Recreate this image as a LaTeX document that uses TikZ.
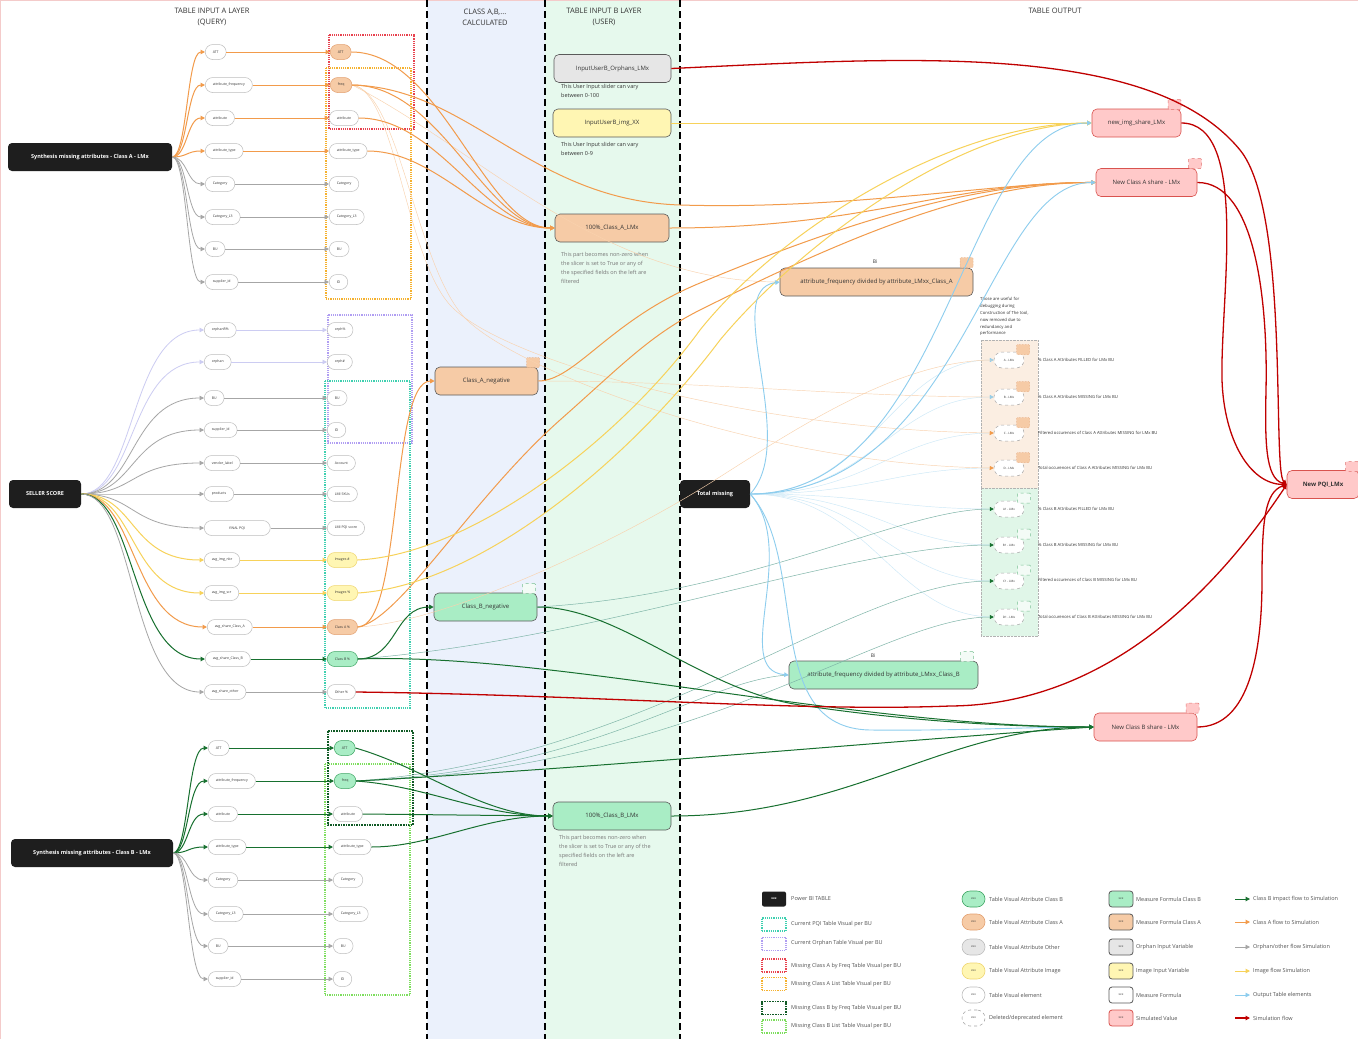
\documentclass[tikz,border=0pt]{standalone}
\usepackage{fontspec}
\setmainfont{Open Sans}
\usetikzlibrary{arrows.meta}
\definecolor{blkc}{HTML}{1E1E1E}
\definecolor{orA}{HTML}{F29B4B}
\definecolor{orF}{HTML}{F6CBA6}
\definecolor{orB}{HTML}{E3A070}
\definecolor{grn}{HTML}{17702F}
\definecolor{grnF}{HTML}{A9EDC5}
\definecolor{grnB}{HTML}{3EA563}
\definecolor{ylw}{HTML}{F7D25A}
\definecolor{ylwF}{HTML}{FFF6B3}
\definecolor{ylwB}{HTML}{EFD670}
\definecolor{gry}{HTML}{A6A6A6}
\definecolor{lav}{HTML}{CCCCF2}
\definecolor{redl}{HTML}{C00000}
\definecolor{pinkF}{HTML}{FFC9C9}
\definecolor{pinkB}{HTML}{D9534F}
\definecolor{blu}{HTML}{8DCDEE}
\definecolor{bgBlue}{HTML}{EBF1FC}
\definecolor{bgGreen}{HTML}{E6F9ED}
\definecolor{txt}{HTML}{333333}
\definecolor{gtxt}{HTML}{777777}
\definecolor{pillbd}{HTML}{BDBDBD}
\definecolor{grayF}{HTML}{E6E6E6}
\definecolor{bdg}{HTML}{5A5A5A}
\definecolor{peach}{HTML}{FBEEE2}
\definecolor{mint}{HTML}{E0F6E8}
\definecolor{tealc}{HTML}{3FD0B0}
\definecolor{lavD}{HTML}{B09EF2}
\definecolor{redD}{HTML}{E8424F}
\definecolor{orD}{HTML}{F5B12E}
\definecolor{dgD}{HTML}{105A25}
\definecolor{lgD}{HTML}{7EDE5E}
\definecolor{tealf}{HTML}{7FB5A8}
\newcommand{\fsz}[1]{\fontsize{#1}{#1}\selectfont}
\begin{document}
\begin{tikzpicture}[x=1pt,y=-1pt,
  pill/.style={draw=pillbd, line width=0.5pt, fill=white, rounded corners=7.5pt, minimum height=15pt, inner xsep=7.5pt, inner ysep=0pt, font=\fsz{3.5}, text=txt, anchor=west},
  pO/.style={fill=orF, draw=orB},
  pG/.style={fill=grnF, draw=grnB},
  pY/.style={fill=ylwF, draw=ylwB},
  blk/.style={fill=blkc, rounded corners=4pt, text=white, font=\bfseries\fsz{5.5}, minimum height=28pt, inner sep=0pt},
  mnode/.style={draw=bdg, line width=0.6pt, rounded corners=5pt, minimum height=28pt, inner sep=0pt, font=\fsz{6}, text=txt},
  onode/.style={draw=pinkB, line width=0.6pt, fill=pinkF, rounded corners=5pt, minimum height=28pt, inner sep=0pt, font=\fsz{6}, text=txt},
  noteO/.style={minimum width=13pt, minimum height=10pt, inner sep=0pt, rounded corners=1pt, line width=0.5pt, fill=orF, draw=orB, densely dotted},
  noteG/.style={minimum width=13pt, minimum height=10pt, inner sep=0pt, rounded corners=1pt, line width=0.5pt, fill=white!60!mint, draw=grnB!70, dashed},
  noteP/.style={minimum width=13pt, minimum height=10pt, inner sep=0pt, rounded corners=1pt, line width=0.5pt, fill=pinkF, draw=pinkB!80, dashed},
  hdr/.style={align=center, font=\fontsize{7.5}{11}\selectfont, text=txt},
  arr/.style={-{Triangle[length=4.5pt,width=4.5pt]}},
  arrO/.style={-{Triangle[length=4pt,width=4pt,color=orA]}},
  arrB/.style={-{Triangle[length=4pt,width=4pt,color=blu]}},
  arrT/.style={-{Triangle[length=4pt,width=4pt,color=grn]}},
  lnO/.style={draw=orA, line width=1pt},
  lnG/.style={draw=grn, line width=1pt},
  lnY/.style={draw=ylw, line width=1pt},
  lnGy/.style={draw=gry, line width=0.8pt},
  lnL/.style={draw=lav, line width=0.8pt},
  lnR/.style={draw=redl, line width=1.3pt},
  lnB/.style={draw=blu, line width=0.9pt},
  fnO/.style={draw=orA!45, line width=0.45pt},
  fnB/.style={draw=blu!45, line width=0.45pt},
  fnT/.style={draw=tealf, line width=0.5pt},
  vdash/.style={draw=black, line width=1.5pt, dash pattern=on 7pt off 4pt},
  grpbox/.style={densely dotted, line width=1.2pt},
  dpill/.style={draw=gray!70, dashed, line width=0.5pt, fill=white, rounded corners=8pt, minimum width=30pt, minimum height=16pt, inner sep=0pt, font=\fsz{3}, text=txt},
  dlab/.style={anchor=west, inner sep=0pt, font=\fsz{4.2}, text=txt},
  lgt/.style={anchor=west, inner sep=0pt, font=\fsz{5.5}, text=txt!85},
  ldot/.style={densely dotted, line width=1.2pt, minimum width=24pt, minimum height=13pt, inner sep=0pt},
  lpill/.style={draw=pillbd, line width=0.6pt, fill=white, rounded corners=8pt, minimum width=23pt, minimum height=16pt, inner sep=0pt, font=\fsz{3}, text=txt},
  lbox/.style={draw=bdg, line width=0.8pt, fill=white, rounded corners=3pt, minimum width=24pt, minimum height=16pt, inner sep=0pt, font=\fsz{3}, text=txt}
]
\useasboundingbox (0,0) rectangle (1358,1039);
\fill[white] (0,0) rectangle (1358,1039);
% columns
\fill[bgBlue] (427,0) rectangle (545,1039);
\fill[bgGreen] (545,0) rectangle (680,1039);
\draw[pinkB!30, line width=0.8pt] (0,0.6) -- (1358,0.6);
\draw[pinkB!30, line width=0.8pt] (0.6,0) -- (0.6,1039);
\draw[vdash] (427,0) -- (427,1039);
\draw[vdash] (545,0) -- (545,1039);
\draw[vdash] (680,0) -- (680,1039);

% headers
\node[hdr] (h1) at (212,17) {TABLE INPUT A LAYER\\(QUERY)};
\node[hdr] (h2) at (485,17) {CLASS A,B,...\\CALCULATED};
\node[hdr] (h3) at (604,17) {TABLE INPUT B LAYER\\(USER)};
\node[hdr] (h4) at (1055,11) {TABLE OUTPUT};

% dotted group boxes
\draw[grpbox, redD] (329,35) rectangle (414,129);
\draw[grpbox, orD] (326,68) rectangle (411,299);
\draw[grpbox, lavD] (328,315) rectangle (412,443);
\draw[grpbox, tealc] (325,381) rectangle (410,708);
\draw[grpbox, dgD, line width=1.6pt] (328,731) rectangle (413,825);
\draw[grpbox, lgD] (325,764) rectangle (410,995);

% ---------- Section A ----------
\node[blk, minimum width=164pt] (bA) at (90,157) {Synthesis missing attributes - Class A - LMx};
\node[pill] (aL1) at (205,52) {ATT};
\node[pill] (aL2) at (205,85) {attribute\_frequency};
\node[pill] (aL3) at (205,118) {attribute};
\node[pill] (aL4) at (205,151) {attribute\_type};
\node[pill] (aL5) at (205,184) {Category};
\node[pill] (aL6) at (205,217) {Category\_L3};
\node[pill] (aL7) at (205,249) {BU};
\node[pill] (aL8) at (205,282) {supplier\_id};
\node[pill,pO] (aR1) at (330,52) {ATT};
\node[pill,pO] (aR2) at (330,85) {freq};
\node[pill] (aR3) at (329,118) {attribute};
\node[pill] (aR4) at (329,151) {attribute\_type};
\node[pill] (aR5) at (329,184) {Category};
\node[pill] (aR6) at (329,217) {Category\_L3};
\node[pill] (aR7) at (329,249) {BU};
\node[pill] (aR8) at (329,282) {ID};
\foreach \i in {1,...,4}{\draw[lnO,arr] (bA.east) .. controls +(15,0) and +(-18,0) .. (aL\i.west);
  \draw[lnO,arr] (aL\i.east) -- (aR\i.west);}
\foreach \i in {5,...,8}{\draw[lnGy,arr] (bA.east) .. controls +(15,0) and +(-18,0) .. (aL\i.west);
  \draw[lnGy,arr] (aL\i.east) -- (aR\i.west);}

% ---------- Seller score ----------
\node[blk, minimum width=72pt] (bS) at (45,494) {SELLER SCORE};
\node[pill] (s1) at (204,330) {orphanR\%};
\node[pill] (s2) at (204,362) {orphan};
\node[pill] (s3) at (204,398) {BU};
\node[pill] (s4) at (204,430) {supplier\_id};
\node[pill] (s5) at (204,463) {vendor\_label};
\node[pill] (s6) at (204,494) {products};
\node[pill, minimum width=66pt] (s7) at (204,528) {fINAL PQI};
\node[pill] (s8) at (204,560) {avg\_img\_nbr};
\node[pill] (s9) at (204,593) {avg\_img\_scr};
\node[pill] (s10) at (207,627) {avg\_share\_Class\_A};
\node[pill] (s11) at (205,659) {avg\_share\_Class\_B};
\node[pill] (s12) at (204,692) {avg\_share\_other};
\node[pill] (t1) at (327,330) {orph\%};
\node[pill] (t2) at (327,362) {orph\#};
\node[pill] (t3) at (327,398) {BU};
\node[pill] (t4) at (327,430) {ID};
\node[pill] (t5) at (327,463) {Account};
\node[pill] (t6) at (327,494) {LMI SKUs};
\node[pill] (t7) at (327,528) {LMI PQI score};
\node[pill,pY] (t8) at (327,560) {Images \#};
\node[pill,pY] (t9) at (327,593) {Images \%};
\node[pill,pO] (t10) at (327,627) {Class A \%};
\node[pill,pG] (t11) at (327,659) {Class B \%};
\node[pill] (t12) at (327,692) {Other \%};
\foreach \i/\s in {1/lnL,2/lnL,3/lnGy,4/lnGy,5/lnGy,6/lnGy,7/lnGy,8/lnY,9/lnY,10/lnO,11/lnG,12/lnGy}{
  \draw[\s,arr] (bS.east) .. controls +(55,0) and +(-75,0) .. (s\i.west);
  \draw[\s,arr] (s\i.east) -- (t\i.west);}

% ---------- Section B ----------
\node[blk, minimum width=162pt] (bB) at (92,853) {Synthesis missing attributes - Class B - LMx};
\node[pill] (bL1) at (208,748) {ATT};
\node[pill] (bL2) at (208,781) {attribute\_frequency};
\node[pill] (bL3) at (208,814) {attribute};
\node[pill] (bL4) at (208,847) {attribute\_type};
\node[pill] (bL5) at (208,880) {Category};
\node[pill] (bL6) at (208,914) {Category\_L3};
\node[pill] (bL7) at (208,946) {BU};
\node[pill] (bL8) at (208,979) {supplier\_id};
\node[pill,pG] (bR1) at (334,748) {ATT};
\node[pill,pG] (bR2) at (334,781) {freq};
\node[pill] (bR3) at (333,814) {attribute};
\node[pill] (bR4) at (333,847) {attribute\_type};
\node[pill] (bR5) at (333,880) {Category};
\node[pill] (bR6) at (333,914) {Category\_L3};
\node[pill] (bR7) at (333,946) {BU};
\node[pill] (bR8) at (333,979) {ID};
\foreach \i in {1,...,4}{\draw[lnG,arr] (bB.east) .. controls +(15,0) and +(-20,0) .. (bL\i.west);
  \draw[lnG,arr] (bL\i.east) -- (bR\i.west);}
\foreach \i in {5,...,8}{\draw[lnGy,arr] (bB.east) .. controls +(15,0) and +(-20,0) .. (bL\i.west);
  \draw[lnGy,arr] (bL\i.east) -- (bR\i.west);}

% ---------- middle nodes ----------
\node[mnode, fill=orF, minimum width=103pt] (cAneg) at (486.5,381) {Class\_A\_negative};
\node[noteO] (cAnegN) at (533,362.5) {};
\node[mnode, fill=grnF, minimum width=103pt] (cBneg) at (485.5,607) {Class\_B\_negative};
\node[noteG] (cBnegN) at (529,588.5) {};
\node[mnode, fill=grayF, minimum width=117pt] (iOrph) at (612.5,68.5) {InputUserB\_Orphans\_LMx};
\node[anchor=north west, align=left, inner sep=0pt, font=\fontsize{5.5}{9}\selectfont, text=txt] (iOrphT) at (561,84) {This User Input slider can vary\\between 0-100};
\node[mnode, fill=ylwF, minimum width=118pt] (iImg) at (612,123) {InputUserB\_img\_XX};
\node[anchor=north west, align=left, inner sep=0pt, font=\fontsize{5.5}{9}\selectfont, text=txt] (iImgT) at (561,142) {This User Input slider can vary\\between 0-9};
\node[mnode, fill=orF, minimum width=114pt] (cA100) at (612,228) {100\%\_Class\_A\_LMx};
\node[anchor=north west, align=left, inner sep=0pt, font=\fontsize{5.5}{9}\selectfont, text=gtxt] (cA100T) at (561,252) {This part becomes non-zero when\\the slicer is set to True or any of\\the specified fields on the left are\\filtered};
\node[mnode, fill=grnF, minimum width=118pt] (cB100) at (612,816) {100\%\_Class\_B\_LMx};
\node[anchor=north west, align=left, inner sep=0pt, font=\fontsize{5.5}{9}\selectfont, text=gtxt] (cB100T) at (559,835) {This part becomes non-zero when\\the slicer is set to True or any of the\\specified fields on the left are\\filtered};

% ---------- right side ----------
\node[blk, minimum width=70pt] (TM) at (715,494) {Total missing};
\node[onode, minimum width=89pt] (nI) at (1136.5,123) {new\_img\_share\_LMx};
\node[noteP] (nIN) at (1174.5,104.5) {};
\node[onode, minimum width=101pt] (oA) at (1146.5,182.5) {New Class A share - LMx};
\node[noteP] (oAN) at (1195,163.5) {};
\node[onode, minimum width=103pt] (oB) at (1145.5,727) {New Class B share - LMx};
\node[noteP] (oBN) at (1192.5,708) {};
\node[onode, minimum width=72pt, font=\bfseries\fsz{6}] (PQI) at (1323,484.5) {New PQI\_LMx};
\node[noteP] (PQIN) at (1352,466.5) {};
\node[mnode, fill=orF, minimum width=193pt] (aFA) at (876.5,282) {attribute\_frequency divided by attribute\_LMxx\_Class\_A};
\node[noteO] (aFAN) at (966.5,262.5) {};
\node[font=\fsz{5}, text=txt, inner sep=0pt] (aFAL) at (875,262) {Bi};
\node[mnode, fill=grnF, minimum width=189pt] (aFB) at (883.5,675) {attribute\_frequency divided by attribute\_LMxx\_Class\_B};
\node[noteG] (aFBN) at (967,656.5) {};
\node[font=\fsz{5}, text=txt, inner sep=0pt] (aFBL) at (873,656) {Bi};

% debug area
\node[anchor=north west, align=left, inner sep=0pt, font=\fontsize{4.2}{6.8}\selectfont, text=txt] (dbgT) at (980,297.5) {Those are useful for\\debugging during\\Construction of The tool,\\now removed due to\\redundancy and\\performance};
\draw[gray!60, densely dotted, fill=peach] (981,340) rectangle (1038,488);
\draw[gray!60, densely dotted, fill=mint] (981,488) rectangle (1038,636);
\foreach \n/\y/\t in {dA/360/A - LMx,dB/397/B - LMx,dC/433/C - LMx,dD/468/D - LMx}{
  \node[dpill] (\n) at (1009,\y) {\t};
  \node[noteO] (\n N) at (1023,\y-10.5) {};}
\foreach \n/\y/\t in {dA1/509/A1 - LMx,dB1/545/B1 - LMx,dC1/581/C1 - LMx,dD1/617/D1 - LMx}{
  \node[dpill] (\n) at (1009,\y) {\t};
  \node[noteG] (\n N) at (1024,\y-11) {};}
\node[dlab] (dAl) at (1038,360) {\% Class A Attributes FILLED for LMx BU};
\node[dlab] (dBl) at (1038,397) {\% Class A Attributes MISSING for LMx BU};
\node[dlab] (dCl) at (1038,433) {Filtered occurences of Class A Attributes MISSING for LMx BU};
\node[dlab] (dDl) at (1038,468) {Total occurences of Class A Attributes MISSING for LMx BU};
\node[dlab] (dA1l) at (1038,509) {\% Class B Attributes FILLED for LMx BU};
\node[dlab] (dB1l) at (1038,545) {\% Class B Attributes MISSING for LMx BU};
\node[dlab] (dC1l) at (1038,580) {Filtered occurences of Class B MISSING for LMx BU};
\node[dlab] (dD1l) at (1038,617) {Total occurences of Class B Attributes MISSING for LMx BU};

% ---------- faint connectors ----------
\foreach \n in {dC,dD,dA1,dB1,dC1,dD1}{\draw[fnB] (TM.east) .. controls +(120,0) and +(-100,0) .. (\n.west);}
\foreach \n in {dA,dB}{\draw[fnB,arrB] (TM.east) .. controls +(120,0) and +(-100,0) .. (\n.west);}
\draw[fnO] (aR2.east) .. controls (480,150) and (600,282) .. (aFA.west);
\draw[fnO,arrO] (aR2.east) .. controls (395,90) and (405,255) .. (450,305) .. controls (500,360) and (750,430) .. (dC.west);
\draw[fnO,arrO] (aR2.east) .. controls (400,92) and (415,265) .. (465,318) .. controls (515,370) and (760,465) .. (dD.west);
\draw[fnO] (cAneg.east) .. controls (700,381) and (850,397) .. (dB.west);
\draw[fnO] (t10.east) .. controls (450,622) and (620,540) .. (715,480) .. controls (800,426) and (900,360) .. (dA.west);
\draw[fnT,arrT] (cBneg.east) .. controls (750,595) and (900,509) .. (dA1.west);
\draw[fnT,arrT] (t11.east) .. controls (600,640) and (850,545) .. (dB1.west);
\draw[fnT,arrT] (bR2.east) .. controls (650,760) and (850,581) .. (dC1.west);
\draw[fnT,arrT] (bR2.east) .. controls (700,770) and (880,617) .. (dD1.west);
\draw[fnT] (bR2.east) .. controls (600,770) and (700,680) .. (aFB.west);

% ---------- orange ----------
\draw[lnO,arr] (aR1.east) .. controls +(90,0) and +(-70,0) .. (cA100.west);
\draw[lnO,arr] (aR2.east) .. controls +(90,0) and +(-70,0) .. (cA100.west);
\draw[lnO,arr] (aR3.east) .. controls +(80,0) and +(-70,0) .. (cA100.west);
\draw[lnO,arr] (aR4.east) .. controls +(70,0) and +(-70,0) .. (cA100.west);
\draw[lnO,arr] (aR2.east) .. controls (470,88) and (530,200) .. (680,205) .. controls (850,210) and (1000,182) .. (oA.west);
\draw[lnO,arr] (cA100.east) .. controls +(200,0) and +(-150,0) .. (oA.west);
\draw[lnO,arr] (t10.east) .. controls +(45,0) and +(-45,0) .. (cAneg.west);
\draw[lnO,arr] (t10.east) .. controls (400,620) and (470,500) .. (560,420) .. controls (620,367) and (650,335) .. (700,310) .. controls (850,235) and (980,182) .. (oA.west);
\draw[lnO,arr] (cAneg.east) .. controls (575,381) and (610,320) .. (700,283) .. controls (850,220) and (980,182) .. (oA.west);

% ---------- yellow ----------
\draw[lnY,arr] (iImg.east) -- (nI.west);
\draw[lnY,arr] (t8.east) .. controls (470,555) and (620,440) .. (700,330) .. controls (780,230) and (950,123) .. (nI.west);
\draw[lnY,arr] (t9.east) .. controls (480,585) and (630,460) .. (720,340) .. controls (800,244) and (960,125) .. (nI.west);

% ---------- blue ----------
\draw[lnB,arr] (TM.east) .. controls (950,494) and (960,123) .. (nI.west);
\draw[lnB,arr] (TM.east) .. controls (965,494) and (985,182) .. (oA.west);
\draw[lnB,arr] (TM.east) .. controls (800,440) and (720,290) .. (aFA.west);
\draw[lnB,arr] (TM.east) .. controls (800,550) and (730,670) .. (aFB.west);
\draw[lnB,arr] (TM.east) .. controls (810,560) and (760,728) .. (870,730) .. controls (950,731) and (1030,727) .. (oB.west);

% ---------- green ----------
\draw[lnG,arr] (bR1.east) .. controls +(70,20) and +(-70,0) .. (cB100.west);
\draw[lnG,arr] (bR2.east) .. controls +(70,5) and +(-70,0) .. (cB100.west);
\draw[lnG,arr] (bR3.east) -- (cB100.west);
\draw[lnG,arr] (bR4.east) .. controls +(60,0) and +(-70,0) .. (cB100.west);
\draw[lnG,arr] (bR2.east) .. controls (600,768) and (900,740) .. (oB.west);
\draw[lnG,arr] (cB100.east) .. controls +(180,0) and +(-150,0) .. (oB.west);
\draw[lnG,arr] (t11.east) .. controls +(40,0) and +(-40,0) .. (cBneg.west);
\draw[lnG,arr] (t11.east) .. controls (550,652) and (850,727) .. (oB.west);
\draw[lnG,arr] (cBneg.east) .. controls (620,607) and (700,690) .. (800,705) .. controls (900,720) and (1000,727) .. (oB.west);

% ---------- red ----------
\draw[lnR,arr] (iOrph.east) .. controls (900,58) and (1150,40) .. (1240,150) .. controls (1290,211) and (1272,470) .. (PQI.west);
\draw[lnR,arr] (nI.east) .. controls (1250,123) and (1220,300) .. (1222,380) .. controls (1224,440) and (1250,484) .. (PQI.west);
\draw[lnR,arr] (oA.east) .. controls (1255,182) and (1268,300) .. (1266,390) .. controls (1265,440) and (1265,478) .. (PQI.west);
\draw[lnR,arr] (t12.east) .. controls (600,695) and (800,712) .. (950,706) .. controls (1100,705) and (1210,600) .. (PQI.west);
\draw[lnR,arr] (oB.east) .. controls (1250,727) and (1262,650) .. (1262,580) .. controls (1262,520) and (1265,492) .. (PQI.west);

% ---------- legend ----------
\node[blk, minimum width=24pt, minimum height=15pt, rounded corners=2pt, font=\bfseries\fsz{3}] (lg1) at (774,899) {xxx};
\node[lgt] (lt1) at (791,899) {Power BI TABLE};
\node[ldot, draw=tealc] (lg2) at (774,924.5) {};
\node[lgt] (lt2) at (791,924) {Current PQI Table Visual per BU};
\node[ldot, draw=lavD] (lg3) at (774,944) {};
\node[lgt] (lt3) at (791,943) {Current Orphan Table Visual per BU};
\node[ldot, draw=redD] (lg4) at (774,965.5) {};
\node[lgt] (lt4) at (791,966) {Missing Class A by Freq Table Visual per BU};
\node[ldot, draw=orD] (lg5) at (774,984) {};
\node[lgt] (lt5) at (791,984) {Missing Class A List Table Visual per BU};
\node[ldot, draw=dgD, line width=1.6pt] (lg6) at (774,1008) {};
\node[lgt] (lt6) at (791,1008) {Missing Class B by Freq Table Visual per BU};
\node[ldot, draw=lgD] (lg7) at (774,1026.5) {};
\node[lgt] (lt7) at (791,1026) {Missing Class B List Table Visual per BU};

\node[lpill, pG] (lp1) at (973.5,899) {xxx};
\node[lgt] (lq1) at (989,899) {Table Visual Attribute Class B};
\node[lpill, pO] (lp2) at (973.5,922) {xxx};
\node[lgt] (lq2) at (989,922) {Table Visual Attribute Class A};
\node[lpill, fill=grayF] (lp3) at (973.5,947) {xxx};
\node[lgt] (lq3) at (989,947) {Table Visual Attribute Other};
\node[lpill, pY] (lp4) at (973.5,971) {xxx};
\node[lgt] (lq4) at (989,971) {Table Visual Attribute Image};
\node[lpill] (lp5) at (973.5,995) {xxx};
\node[lgt] (lq5) at (989,995) {Table Visual element};
\node[lpill, dashed, draw=gray!70] (lp6) at (973.5,1018) {xxx};
\node[lgt] (lq6) at (989,1018) {Deleted/deprecated element};

\node[lbox, fill=grnF] (lb1) at (1121,899) {xxx};
\node[lgt] (lr1) at (1136,899) {Measure Formula Class B};
\node[lbox, fill=orF] (lb2) at (1121,922) {xxx};
\node[lgt] (lr2) at (1136,922) {Measure Formula Class A};
\node[lbox, fill=grayF] (lb3) at (1121,947) {xxx};
\node[lgt] (lr3) at (1136,947) {Orphan Input Variable};
\node[lbox, fill=ylwF] (lb4) at (1121,971) {xxx};
\node[lgt] (lr4) at (1136,971) {Image Input Variable};
\node[lbox] (lb5) at (1121,995) {xxx};
\node[lgt] (lr5) at (1136,995) {Measure Formula};
\node[lbox, fill=pinkF, draw=pinkB] (lb6) at (1121,1018) {xxx};
\node[lgt] (lr6) at (1136,1018) {Simulated Value};

\foreach \k/\y/\s/\t in {1/899/lnG/{Class B impact flow to Simulation},2/922/lnO/{Class A flow to Simulation},3/947/lnGy/{Orphan/other flow Simulation},4/971/lnY/{Image flow Simulation},5/995/lnB/{Output Table elements},6/1018/lnR/{Simulation flow}}{
  \coordinate (ka\k) at (1235,\y);
  \coordinate (kb\k) at (1250,\y);
  \draw[\s,arr] (ka\k) -- (kb\k);
  \node[lgt] (ks\k) at (1253,\y) {\t};}
\end{tikzpicture}
\end{document}
